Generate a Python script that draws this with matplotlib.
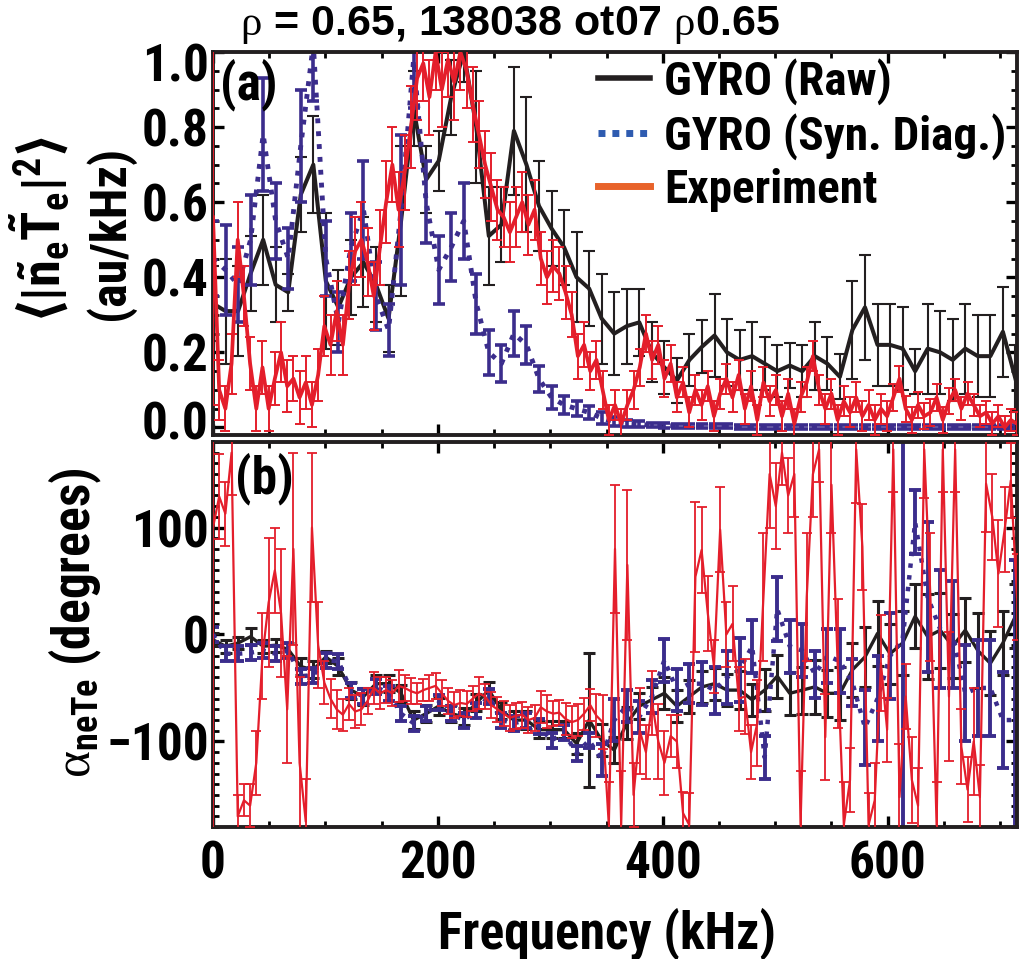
import numpy as np
import matplotlib
matplotlib.use('Agg')
import matplotlib.pyplot as plt
import matplotlib.transforms as mtransforms
import matplotlib.font_manager as fm
from matplotlib.lines import Line2D
from matplotlib.ticker import MultipleLocator

# ---- data ----
df_gyro = 11.15   # kHz spacing of the GYRO spectra
df_exp = 5.5      # kHz spacing of the measured spectrum

gyro_raw = [0.33, 0.31, 0.31, 0.41, 0.50, 0.38, 0.36, 0.62, 0.70, 0.39,
            0.32, 0.40, 0.44, 0.38, 0.29, 0.55, 0.85, 0.66, 0.71, 0.88,
            1.00, 0.80, 0.51, 0.54, 0.79, 0.70, 0.59, 0.53, 0.48, 0.40,
            0.37, 0.29, 0.25, 0.27, 0.28, 0.20, 0.16, 0.125, 0.18, 0.215,
            0.245, 0.20, 0.18, 0.19, 0.17, 0.15, 0.165, 0.15, 0.19, 0.17,
            0.135, 0.26, 0.32, 0.22, 0.22, 0.21, 0.15, 0.21, 0.20, 0.18,
            0.21, 0.19, 0.19, 0.255, 0.13]
gyro_raw_err = [0.10, 0.14, 0.12, 0.10, 0.12, 0.10, 0.05, 0.10, 0.13, 0.18, 0.10,
                0.10, 0.12, 0.10, 0.09, 0.20, 0.10, 0.09, 0.08, 0.10, 0.08,
                0.15, 0.13, 0.10, 0.17, 0.18, 0.12, 0.10, 0.10, 0.12, 0.10,
                0.12, 0.11, 0.10, 0.09, 0.08, 0.07, 0.06, 0.07, 0.07, 0.11,
                0.09, 0.08, 0.09, 0.07, 0.07, 0.06, 0.07, 0.09, 0.07, 0.06,
                0.13, 0.14, 0.11, 0.11, 0.11, 0.06, 0.12, 0.11, 0.11, 0.12,
                0.11, 0.11, 0.12, 0.09]

gyro_syn = [0.45, 0.42, 0.38, 0.50, 0.78, 0.55, 0.45, 0.75, 1.02, 0.45,
            0.28, 0.48, 0.58, 0.35, 0.26, 0.58, 0.98, 0.60, 0.42, 0.48,
            0.55, 0.33, 0.20, 0.17, 0.25, 0.22, 0.13, 0.08, 0.06, 0.05,
            0.04, 0.025, 0.015, 0.010, 0.008, 0.006, 0.005, 0.004, 0.004, 0.003,
            0.003, 0.003, 0.002, 0.002, 0.002, 0.002, 0.002, 0.001, 0.001, 0.001,
            0.001, 0.001, 0.001, 0.001, 0.001, 0.001, 0.001, 0.001, 0.001, 0.001,
            0.001, 0.001, 0.001, 0.001, 0.001]
gyro_syn_err = [0.10, 0.12, 0.10, 0.12, 0.15, 0.10, 0.08, 0.15, 0.15, 0.10,
                0.08, 0.09, 0.13, 0.09, 0.07, 0.20, 0.13, 0.11, 0.09, 0.09,
                0.10, 0.08, 0.06, 0.05, 0.06, 0.05, 0.035, 0.03, 0.025, 0.02,
                0.018, 0.015, 0.012, 0.010, 0.008, 0.006, 0.006, 0.005, 0.005, 0.005,
                0.005, 0.005, 0.005, 0.005, 0.005, 0.005, 0.005, 0.005, 0.005, 0.005,
                0.005, 0.005, 0.005, 0.005, 0.005, 0.005, 0.005, 0.005, 0.005, 0.005,
                0.005, 0.005, 0.005, 0.005, 0.005]

exp_power = [0.56, 0.10, 0.05, 0.17, 0.50, 0.35, 0.17, 0.05, 0.16, 0.05,
             0.13, 0.20, 0.11, 0.13, 0.08, 0.12, 0.06, 0.14, 0.27, 0.22,
             0.31, 0.22, 0.38, 0.47, 0.50, 0.44, 0.35, 0.48, 0.60, 0.70,
             0.58, 0.68, 0.80, 0.93, 0.97, 0.88, 1.00, 0.90, 0.98, 0.92,
             1.00, 0.95, 0.86, 0.78, 0.70, 0.64, 0.58, 0.56, 0.52, 0.56,
             0.60, 0.54, 0.58, 0.45, 0.40, 0.43, 0.41, 0.36, 0.30, 0.19,
             0.22, 0.15, 0.18, 0.10, 0.02, 0.06, 0.01, 0.06, 0.10, 0.16,
             0.25, 0.18, 0.22, 0.13, 0.17, 0.08, 0.12, 0.04, 0.10, 0.06,
             0.11, 0.03, 0.09, 0.13, 0.08, 0.14, 0.05, 0.11, 0.02, 0.12,
             0.07, 0.10, 0.03, 0.09, 0.01, 0.08, 0.12, 0.19, 0.10, 0.05,
             0.09, 0.02, 0.07, 0.04, 0.08, 0.03, 0.06, 0.02, 0.05, 0.03,
             0.08, 0.13, 0.05, 0.02, 0.06, 0.03, 0.04, 0.08, 0.02, 0.07,
             0.10, 0.05, 0.09, 0.06, 0.03, 0.04, 0.01, 0.03, 0.00, 0.02,
             0.01]
exp_power_err = [0.50, 0.08, 0.06, 0.08, 0.10, 0.08, 0.07, 0.06, 0.07, 0.06,
                 0.07, 0.08, 0.07, 0.06, 0.07, 0.07, 0.06, 0.07, 0.08, 0.08,
                 0.08, 0.08, 0.09, 0.09, 0.10, 0.09, 0.09, 0.10, 0.11, 0.10,
                 0.10, 0.10, 0.11, 0.11, 0.10, 0.10, 0.10, 0.10, 0.10, 0.10,
                 0.10, 0.10, 0.10, 0.09, 0.09, 0.09, 0.08, 0.08, 0.08, 0.08,
                 0.08, 0.08, 0.08, 0.07, 0.07, 0.07, 0.07, 0.07, 0.06, 0.06,
                 0.06, 0.05, 0.05, 0.05, 0.04, 0.04, 0.04, 0.04, 0.05, 0.05,
                 0.05, 0.05, 0.05, 0.05, 0.05, 0.04, 0.04, 0.04, 0.04, 0.04,
                 0.04, 0.04, 0.04, 0.04, 0.04, 0.04, 0.04, 0.04, 0.04, 0.04,
                 0.04, 0.04, 0.04, 0.04, 0.04, 0.04, 0.04, 0.04, 0.04, 0.04,
                 0.04, 0.04, 0.04, 0.04, 0.04, 0.04, 0.04, 0.04, 0.04, 0.04,
                 0.035, 0.035, 0.035, 0.035, 0.035, 0.035, 0.035, 0.035, 0.035, 0.035,
                 0.03, 0.03, 0.03, 0.03, 0.03, 0.03, 0.03, 0.03, 0.03, 0.03,
                 0.03]

raw_phase = [-5, -11, -8, -2, -11, -10, -14, -30, -33, -21,
             -30, -52, -58, -46, -46, -55, -80, -74, -67, -74,
             -77, -64, -52, -71, -80, -80, -89, -89, -89, -102,
             -80, -99, -108, -83, -67, -61, -55, -67, -58, -49,
             -46, -52, -52, -61, -52, -39, -55, -52, -49, -55,
             -55, -33, -21, 1, -18, -8, 17, -2, 4, -11,
             4, -15, -27, -8, 17]
raw_phase_err = [6, 6, 6, 8, 6, 6, 6, 8, 8, 6,
                 8, 8, 8, 8, 8, 8, 8, 8, 8, 8,
                 8, 8, 8, 8, 8, 8, 8, 8, 8, 10,
                 63, 15, 12, 15, 12, 12, 15, 15, 15, 15,
                 15, 15, 18, 15, 20, 20, 20, 22, 25, 22,
                 25, 25, 28, 30, 28, 30, 30, 40, 35, 30,
                 30, 35, 30, 30, 30]

syn_phase = [0, -18, -18, -17, -15, -18, -15, -39, -38, -24,
             -25, -52, -58, -49, -55, -74, -83, -74, -64, -74,
             -80, -71, -58, -80, -83, -80, -86, -99, -92, -111,
             -99, -117, -80, -67, -77, -58, -24, -52, -46, -46,
             -52, -40, -33, -11, -115, 24, -11, -15, -37, -20,
             -25, -45, -87, -60, -20, -5, 105, 35, 5, 0,
             -55, -50, -50, -80, -80]
syn_phase_err = [7, 7, 7, 7, 7, 7, 7, 7, 7, 7,
                 7, 7, 7, 7, 7, 7, 7, 7, 7, 7,
                 7, 7, 7, 7, 7, 7, 7, 7, 7, 7,
                 7, 15, 20, 15, 15, 15, 20, 20, 18, 20,
                 22, 25, 30, 25, 20, 30, 25, 25, 22, 25,
                 30, 22, 35, 40, 40, 200, 30, 70, 55, 50,
                 45, 45, 45, 45, 150]

exp_phase = [100, 129, 113, 170, -170, -155, -160, -120, -20, 30,
             60, 20, -70, 80, -120, -175, 100, -10, -45, -60,
             -70, -75, -65, -72, -70, -62, -50, -55, -52, -55,
             -48, -50, -53, -55, -52, -50, -48, -55, -62, -66,
             -64, -65, -60, -55, -58, -66, -70, -74, -78, -76,
             -75, -80, -78, -68, -72, -74, -73, -79, -82, -80,
             -74, -66, -76, -82, -178, 80, -178, 65, -150, -90,
             -110, -64, -100, -120, -95, -100, -167, -178, 54, 79,
             20, -30, 98, 0, 10, -60, -58, -110, -83, 35,
             150, 120, 170, 130, 150, -178, 35, 150, 173, -96,
             140, -27, -178, -136, 173, 82, -178, -155, -27, -89,
             173, -152, -58, -136, -160, 173, 35, -178, 173, -58,
             173, -105, -145, -100, -152, 141, 110, 57, 98, 144,
             35]
exp_phase_err = [300, 40, 30, 40, 20, 15, 20, 30, 40, 60,
                 40, 60, 50, 90, 80, 40, 70, 40, 20, 18,
                 18, 15, 15, 15, 15, 12, 15, 15, 12, 12,
                 15, 12, 12, 10, 10, 12, 12, 12, 12, 12,
                 12, 12, 12, 15, 12, 12, 12, 12, 12, 12,
                 12, 12, 12, 15, 15, 12, 12, 15, 15, 15,
                 15, 15, 20, 25, 40, 60, 50, 70, 30, 40,
                 25, 30, 35, 30, 20, 25, 20, 30, 70, 40,
                 35, 25, 40, 30, 35, 30, 35, 25, 40, 60,
                 50, 40, 30, 35, 40, 50, 60, 40, 30, 40,
                 45, 60, 40, 30, 50, 40, 30, 35, 45, 30,
                 40, 50, 30, 40, 35, 45, 60, 40, 40, 60,
                 40, 35, 30, 50, 30, 45, 40, 50, 40, 35,
                 40]

legend_labels = ['GYRO (Raw)', 'GYRO (Syn. Diag.)', 'Experiment']
title = r'$\mathsf{\rho}$ = 0.65, 138038 ot07 $\mathsf{\rho}$0.65'

f_gyro = df_gyro * np.arange(len(gyro_raw))
f_exp = df_exp * np.arange(len(exp_power))

c_raw = '#231F20'
c_syn = '#3B2D8C'
c_exp = '#E41E2B'

# pick a narrow / condensed sans if one is installed
prefer = ['Liberation Sans Narrow', 'Roboto Condensed', 'Open Sans Condensed',
          'Noto Sans Condensed', 'DejaVu Sans Condensed']
narrow = None
names = {f.name for f in fm.fontManager.ttflist}
for p in prefer:
    if p in names:
        narrow = (p, 'normal')
        break
if narrow is None:
    for f in fm.fontManager.ttflist:
        if f.stretch in ('condensed', 'semi-condensed', 'extra-condensed') \
                or 'Narrow' in f.name or 'Cond' in f.name:
            narrow = (f.name, f.stretch if isinstance(f.stretch, str) else 'normal')
            break

if narrow is not None:
    fam, stretch = narrow
    k = 1.0
else:
    fam, stretch = 'Liberation Sans', 'normal'
    k = 0.84

serif = 'Liberation Serif' if 'Liberation Serif' in names else 'DejaVu Serif'

plt.rcParams['font.family'] = [fam, 'DejaVu Sans']
plt.rcParams['font.stretch'] = stretch
plt.rcParams['font.weight'] = 'bold'
plt.rcParams['mathtext.fontset'] = 'custom'
spec = f'{fam}:bold' + (f':stretch={stretch}' if stretch != 'normal' else '')
plt.rcParams['mathtext.rm'] = spec
plt.rcParams['mathtext.it'] = spec
plt.rcParams['mathtext.bf'] = spec
plt.rcParams['mathtext.sf'] = f'{serif}:weight=normal:stretch=normal'

W, H = 1021, 959
fig = plt.figure(figsize=(W / 100, H / 100), dpi=100)
ax1 = fig.add_axes([213 / W, 1 - 435 / H, 804 / W, 383 / H])
ax2 = fig.add_axes([213 / W, 1 - 827 / H, 804 / W, 385 / H])

# top: power spectra
ax1.errorbar(f_gyro, gyro_raw, yerr=gyro_raw_err, color=c_raw, lw=2.9,
             elinewidth=1.5, capsize=4.5, capthick=1.5, zorder=2)
ax1.errorbar(f_gyro, gyro_syn, yerr=gyro_syn_err, color=c_syn, lw=3.5, ls=':',
             elinewidth=2.6, capsize=4.5, capthick=2.6, zorder=2.5)
ax1.errorbar(f_exp, exp_power, yerr=exp_power_err, color=c_exp, lw=2.7,
             elinewidth=1.4, capsize=3.5, capthick=1.4, zorder=3)

# bottom: cross phase
ax2.errorbar(f_gyro, raw_phase, yerr=raw_phase_err, color=c_raw, lw=2.4,
             elinewidth=2.2, capsize=4.5, capthick=2.2, zorder=2)
ax2.errorbar(f_gyro, syn_phase, yerr=syn_phase_err, color=c_syn, lw=3.2, ls=':',
             elinewidth=2.8, capsize=4.5, capthick=2.8, zorder=2.5)
ax2.errorbar(f_exp, exp_phase, yerr=exp_phase_err, color=c_exp, lw=1.6,
             elinewidth=1.3, capsize=3.5, capthick=1.3, zorder=3)

for ax in (ax1, ax2):
    ax.set_xlim(0, 715)
    ax.xaxis.set_major_locator(MultipleLocator(200))
    ax.xaxis.set_minor_locator(MultipleLocator(50))
    ax.tick_params(which='both', direction='in', top=True, right=True,
                   labelsize=37 * k, width=2.4)
    ax.tick_params(which='major', length=8)
    ax.tick_params(which='minor', length=4.5, width=2)
    ax.tick_params(axis='x', pad=9)
    ax.tick_params(axis='y', pad=3)
    for s in ax.spines.values():
        s.set_linewidth(2.8)
        s.set_color('#231F20')

ax1.set_ylim(-0.02, 1.0)
ax1.set_yticks([0.0, 0.2, 0.4, 0.6, 0.8, 1.0])
ax1.set_yticklabels(['0.0', '0.2', '0.4', '0.6', '0.8', '1.0'])
ax1.yaxis.set_minor_locator(MultipleLocator(0.05))
ax1.tick_params(axis='x', labelbottom=False)
ylabs = ax1.get_yticklabels()
ylabs[-1].set_transform(ylabs[-1].get_transform()
                        + mtransforms.ScaledTranslation(0, -0.10, fig.dpi_scale_trans))
ylabs[0].set_transform(ylabs[0].get_transform()
                       + mtransforms.ScaledTranslation(0, 0.07, fig.dpi_scale_trans))

ax2.set_ylim(-180, 180)
ax2.set_yticks([-100, 0, 100])
ax2.yaxis.set_minor_locator(MultipleLocator(10))

ax1.text(0.009, 0.914, '(a)', transform=ax1.transAxes, fontsize=37 * k,
         fontweight='bold', va='center', ha='left')
ax2.text(0.027, 0.906, '(b)', transform=ax2.transAxes, fontsize=37 * k,
         fontweight='bold', va='center', ha='left')

handles = [Line2D([], [], color=c_raw, lw=4),
           Line2D([], [], color='#2E5BB0', lw=5, ls=(0, (1, 1))),
           Line2D([], [], color='#E8632B', lw=5)]
ax1.legend(handles, legend_labels, loc='upper left',
           bbox_to_anchor=(598 / W, 1 - 58 / H), bbox_transform=fig.transFigure,
           frameon=False, fontsize=34 * k, handlelength=1.1, handletextpad=0.3,
           labelspacing=0.17, borderpad=0, borderaxespad=0)

fig.text(510 / W, 1 - 35 / H, title, fontsize=31, fontweight='bold',
         family=['Liberation Sans', 'DejaVu Sans'], stretch='normal',
         ha='center', va='baseline')

fig.text(40 / W, 1 - 228 / H, r'$\langle|\tilde{n}_e\tilde{T}_e|^2\rangle$',
         fontsize=39 * k, rotation=90, ha='center', va='center')
fig.text(110 / W, 1 - 233 / H, '(au/kHz)', fontsize=36 * k, fontweight='bold',
         rotation=90, ha='center', va='center')
fig.text(75 / W, 1 - 623 / H, r'$\mathsf{\alpha}_{neTe}$ (degrees)', fontsize=37 * k,
         fontweight='bold', rotation=90, ha='center', va='center')
fig.text(607 / W, 1 - 948 / H, 'Frequency (kHz)', fontsize=37 * k,
         fontweight='bold', ha='center', va='baseline')

fig.savefig('out.png', dpi=100)
